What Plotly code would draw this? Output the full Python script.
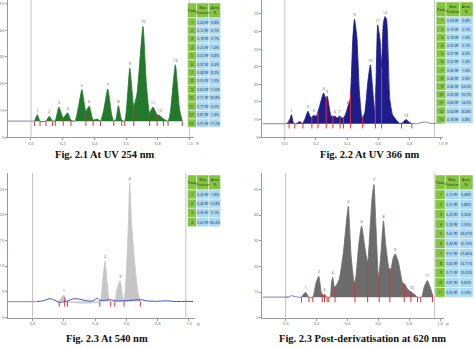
import numpy as np
import plotly.graph_objects as go

# ---------------- DATA ----------------
# Panel 1: UV 254 nm
rf_1 = [0.023, 0.040, 0.057, 0.094, 0.115, 0.136, 0.153, 0.176, 0.203, 0.231, 0.252, 0.277, 0.300, 0.321,
        0.346, 0.367, 0.392, 0.417, 0.438, 0.459, 0.484, 0.509, 0.522, 0.535, 0.551, 0.572, 0.591, 0.623,
        0.648, 0.669, 0.706, 0.727, 0.748, 0.769, 0.795, 0.811, 0.836, 0.864, 0.878, 0.910, 0.937, 0.954]
sig_1 = [6.0, 8.4, 6.0, 6.0, 7.8, 6.0, 6.2, 11.3, 7.2, 9.1, 6.4, 6.0, 11.6, 17.8,
         9.7, 11.6, 6.4, 6.8, 6.0, 10.3, 18.0, 8.4, 6.0, 6.6, 11.8, 6.4, 6.0, 25.8,
         11.6, 16.5, 41.4, 20.2, 9.1, 11.3, 8.4, 8.1, 6.8, 6.0, 9.1, 27.1, 10.3, 6.0]
base_1 = 6.0
peak_rf_1 = [0.040, 0.115, 0.176, 0.231, 0.321, 0.367, 0.484, 0.551, 0.623, 0.706, 0.769, 0.811, 0.910]
peak_h_1 = [8.4, 7.8, 11.3, 9.1, 17.8, 11.6, 18.0, 11.8, 25.8, 41.4, 11.3, 8.1, 27.1]
bound_1 = [0.023, 0.057, 0.094, 0.136, 0.153, 0.203, 0.252, 0.346, 0.392, 0.438, 0.522, 0.572,
           0.591, 0.648, 0.748, 0.795, 0.836, 0.864, 0.954]
area_1 = ["0.8%", "0.7%", "2.7%", "1.0%", "5.8%", "3.4%", "8.2%", "1.2%", "11.6%", "30.8%", "3.5%", "1.4%", "17.2%"]

# Panel 2: UV 366 nm
rf_2 = [0.015, 0.032, 0.043, 0.057, 0.074, 0.096, 0.113, 0.128, 0.149, 0.168, 0.185, 0.202, 0.223, 0.249,
        0.262, 0.272, 0.298, 0.323, 0.336, 0.351, 0.372, 0.389, 0.404, 0.419, 0.436, 0.447, 0.462, 0.479,
        0.496, 0.513, 0.532, 0.549, 0.564, 0.577, 0.585, 0.596, 0.611, 0.621, 0.632, 0.643, 0.653, 0.674,
        0.691, 0.713, 0.738, 0.755, 0.777, 0.798, 0.815]
sig_2 = [7.7, 10.0, 12.8, 7.7, 7.7, 8.9, 7.7, 10.0, 14.7, 10.9, 12.3, 11.9, 17.5, 25.1,
         22.3, 23.2, 11.9, 11.9, 10.9, 11.9, 10.8, 12.8, 17.2, 21.3, 55.3, 67.0, 57.2, 25.1,
         10.9, 13.8, 30.8, 41.1, 27.0, 13.8, 30.8, 63.8, 55.3, 40.2, 64.7, 68.5, 66.6, 21.3,
         12.8, 10.0, 7.7, 8.1, 10.0, 8.5, 7.7]
base_2 = 7.7
tail_rf_2 = [0.815, 0.85, 0.88, 0.91, 0.93, 0.96, 1.015]
tail_sig_2 = [7.7, 7.7, 8.4, 8.6, 7.9, 7.7, 7.7]
peak_rf_2 = [0.043, 0.149, 0.185, 0.249, 0.272, 0.323, 0.351, 0.404, 0.447, 0.549, 0.596, 0.643, 0.777]
peak_h_2 = [12.8, 14.7, 12.3, 25.1, 23.2, 11.9, 11.9, 17.2, 67.0, 41.1, 63.8, 68.5, 10.0]
bound_2 = [0.028, 0.064, 0.117, 0.174, 0.213, 0.266, 0.309, 0.355, 0.377, 0.421, 0.500, 0.581, 0.621, 0.749, 0.815]
area_2 = ["0.8%", "2.1%", "1.9%", "5.7%", "4.2%", "1.3%", "1.0%", "2.9%", "24.5%", "10.7%", "14.2%", "26.8%", "0.8%"]

# Panel 3: 540 nm
rf_3 = [0.170, 0.187, 0.200, 0.217, 0.430, 0.447, 0.464, 0.477, 0.494, 0.526, 0.540, 0.560, 0.574,
        0.585, 0.600, 0.613, 0.621, 0.634, 0.653, 0.674, 0.689]
sig_3 = [3.05, 3.9, 4.35, 3.05, 3.05, 6.8, 11.0, 6.8, 3.05, 3.05, 5.5, 7.1, 4.5,
         3.05, 8.8, 18.5, 26.3, 17.9, 10.7, 4.8, 3.05]
base_3 = 3.05
noise_rf_3 = [0.026, 0.068, 0.111, 0.143, 0.170, 0.228, 0.260, 0.302, 0.345, 0.387, 0.413, 0.430,
              0.504, 0.526, 0.589, 0.696, 0.728, 0.791, 0.855, 0.919, 0.983, 1.026]
noise_sig_3 = [3.05, 3.2, 3.6, 3.3, 2.9, 3.2, 3.6, 3.5, 3.2, 3.2, 3.7, 3.3,
               3.4, 3.2, 3.2, 3.4, 3.2, 3.1, 3.2, 3.05, 3.1, 3.05]
peak_rf_3 = [0.200, 0.464, 0.560, 0.621]
peak_h_3 = [4.35, 11.0, 7.1, 26.3]
bound_3 = [0.170, 0.206, 0.223, 0.430, 0.500, 0.526, 0.585, 0.689]
area_3 = ["1.8%", "12.8%", "5.1%", "80.4%"]

# Panel 4: post-derivatisation 620 nm
rf_4 = [0.103, 0.129, 0.151, 0.176, 0.198, 0.215, 0.232, 0.245, 0.252, 0.267, 0.288, 0.297, 0.305, 0.316,
        0.327, 0.348, 0.374, 0.391, 0.406, 0.424, 0.445, 0.456, 0.473, 0.492, 0.512, 0.531, 0.548, 0.559,
        0.572, 0.585, 0.602, 0.619, 0.634, 0.649, 0.671, 0.682, 0.697, 0.710, 0.731, 0.757, 0.772, 0.789,
        0.815, 0.837, 0.854, 0.880, 0.897, 0.918, 0.940, 0.955]
sig_4 = [8.0, 9.9, 8.0, 8.0, 13.8, 16.1, 9.7, 8.6, 9.0, 8.0, 8.0, 13.8, 15.7, 11.9,
         12.5, 15.1, 25.4, 35.7, 43.5, 24.1, 13.2, 16.4, 28.0, 35.7, 28.0, 21.5, 35.7, 46.1,
         51.9, 35.7, 15.1, 26.7, 37.7, 28.0, 19.0, 19.0, 23.5, 24.8, 21.5, 13.7, 13.0, 11.2,
         9.9, 8.9, 8.0, 8.0, 11.9, 14.5, 11.2, 8.0]
base_4 = 8.0
pre_rf_4 = [0.0, 0.02, 0.037, 0.055, 0.075, 0.103]
pre_sig_4 = [8.0, 8.0, 8.6, 8.2, 8.0, 8.0]
peak_rf_4 = [0.129, 0.215, 0.252, 0.305, 0.406, 0.492, 0.572, 0.634, 0.710, 0.815, 0.918]
peak_h_4 = [9.9, 16.1, 9.0, 15.7, 43.5, 35.7, 51.9, 37.7, 24.8, 9.9, 14.5]
bound_4 = [0.103, 0.151, 0.176, 0.237, 0.252, 0.269, 0.280, 0.320, 0.449, 0.531, 0.606, 0.675,
           0.768, 0.811, 0.854, 0.875, 0.951]
area_4 = ["0.48%", "3.86%", "0.32%", "1.50%", "20.07%", "16.75%", "23.06%", "14.71%", "10.03%", "0.60%", "2.74%"]

captions = ["Fig. 2.1 At UV 254 nm", "Fig. 2.2 At UV 366 nm",
            "Fig. 2.3 At 540 nm", "Fig. 2.3 Post-derivatisation at 620 nm"]
table_header = ["Peak", "Max<br>Position", "Area<br>%"]

# ---------------- LAYOUT HELPERS ----------------
W, H = 474, 348
def px(x):
    return x / W
def py(y):
    return 1 - y / H

panels = [
    dict(rf=rf_1, sig=sig_1, base=base_1, prf=peak_rf_1, ph=peak_h_1, bnd=bound_1, area=area_1,
         fill="#23792b", xr=[-0.145, 1.025], yr=[0, 51.3], xd=[8, 194], yd=[138, 0],
         yt=[0, 10, 20, 30, 40, 50], endline=1.0,
         tab=[188, 221, 3, 128]),
    dict(rf=rf_2, sig=sig_2, base=base_2, prf=peak_rf_2, ph=peak_h_2, bnd=bound_2, area=area_2,
         fill="#1c1c8c", xr=[-0.143, 1.015], yr=[0, 77.9], xd=[263, 444], yd=[138, 0],
         yt=[0, 10, 20, 30, 40, 50, 60, 70], endline=0.96,
         tab=[437, 474, 2, 124]),
    dict(rf=rf_3, sig=sig_3, base=base_3, prf=peak_rf_3, ph=peak_h_3, bnd=bound_3, area=area_3,
         fill="#c6c6c6", xr=[-0.157, 1.036], yr=[-0.1, 28.2], xd=[8, 195], yd=[319.5, 174],
         yt=[0, 5, 10, 15, 20, 25], endline=0.98,
         tab=[188, 221, 176, 228]),
    dict(rf=rf_4, sig=sig_4, base=base_4, prf=peak_rf_4, ph=peak_h_4, bnd=bound_4, area=area_4,
         fill="#6c6c6c", xr=[-0.15, 1.026], yr=[0, 56.4], xd=[263, 445], yd=[319.5, 174],
         yt=[0, 10, 20, 30, 40, 50], endline=0.965,
         tab=[436, 474, 176, 299]),
]

GREEN = "#84c441"
BLUE = "#a9d8f2"

fig = go.Figure()
shapes = []
annotations = []
layout_axes = {}

for i, p in enumerate(panels):
    n = i + 1
    xa = "x" if n == 1 else f"x{n}"
    ya = "y" if n == 1 else f"y{n}"
    span = p["yr"][1] - p["yr"][0]

    fig.add_trace(go.Scatter(x=[p["xr"][0], 0.02], y=[p["base"], p["base"]], mode="lines",
                             line=dict(color="#9d9db8", width=1.2), xaxis=xa, yaxis=ya,
                             hoverinfo="skip", showlegend=False))
    fig.add_trace(go.Scatter(x=p["rf"], y=p["sig"], mode="lines", fill="toself",
                             fillcolor=p["fill"], line=dict(color=p["fill"], width=0.8, shape="spline", smoothing=0.5),
                             xaxis=xa, yaxis=ya, hoverinfo="skip", showlegend=False))
    if n == 2:
        fig.add_trace(go.Scatter(x=tail_rf_2, y=tail_sig_2, mode="lines",
                                 line=dict(color="#8888aa", width=1), xaxis=xa, yaxis=ya,
                                 hoverinfo="skip", showlegend=False))
    if n == 3:
        fig.add_trace(go.Scatter(x=noise_rf_3, y=noise_sig_3, mode="lines",
                                 line=dict(color="#3f52c4", width=1, shape="spline"), xaxis=xa, yaxis=ya,
                                 hoverinfo="skip", showlegend=False))
    if n == 4:
        fig.add_trace(go.Scatter(x=pre_rf_4, y=pre_sig_4, mode="lines",
                                 line=dict(color="#7f86c8", width=1), xaxis=xa, yaxis=ya,
                                 hoverinfo="skip", showlegend=False))

    bx, by = [], []
    for b in p["bnd"]:
        top = float(np.interp(b, p["rf"], p["sig"]))
        bx += [b, b, None]
        by += [p["base"] - 0.035 * span, top, None]
    fig.add_trace(go.Scatter(x=bx, y=by, mode="lines", line=dict(color="#e0303a", width=1),
                             xaxis=xa, yaxis=ya, hoverinfo="skip", showlegend=False))

    fig.add_trace(go.Scatter(x=p["prf"], y=[h + 0.015 * span for h in p["ph"]], mode="text",
                             text=[str(k + 1) for k in range(len(p["prf"]))], textposition="top center",
                             textfont=dict(size=4, color="#555555"), xaxis=xa, yaxis=ya,
                             hoverinfo="skip", showlegend=False))

    xt = [0, 0.2, 0.4, 0.6, 0.8, 1.0]
    layout_axes["xaxis" if n == 1 else f"xaxis{n}"] = dict(
        domain=[px(p["xd"][0]), px(p["xd"][1])], range=p["xr"], anchor=ya,
        showline=True, linecolor="#9a9a9a", linewidth=1, ticks="outside", ticklen=2, tickcolor="#9a9a9a",
        tickvals=xt, ticktext=[f"{v:.1f}" for v in xt], tickfont=dict(size=4, color="#666666"),
        showgrid=False, zeroline=False, fixedrange=True)
    layout_axes["yaxis" if n == 1 else f"yaxis{n}"] = dict(
        domain=[py(p["yd"][0]), py(p["yd"][1])], range=p["yr"], anchor=xa,
        showline=True, linecolor="#9a9a9a", linewidth=1, ticks="outside", ticklen=2, tickcolor="#9a9a9a",
        tickvals=p["yt"], tickfont=dict(size=4, color="#666666"),
        showgrid=False, zeroline=False, fixedrange=True)

    for xv in (0.0, p["endline"]):
        shapes.append(dict(type="line", xref=xa, yref=f"{ya} domain", x0=xv, x1=xv, y0=0, y1=1,
                           line=dict(color="#c4c4c4", width=1), layer="below"))
    annotations.append(dict(x=p["xr"][1], y=p["yr"][0], xref=xa, yref=ya, text="Rf", showarrow=False,
                            font=dict(size=3, color="#777777"), xanchor="left", yanchor="top", yshift=-3))

    # ---- table drawn with shapes + text ----
    rows = len(p["prf"])
    t = p["tab"]
    hdr_h = 15.0
    cell_h = (t[3] - t[2] - hdr_h) / rows
    tw = t[1] - t[0]
    cw = [0.27, 0.37, 0.36]
    cx = [t[0], t[0] + cw[0] * tw, t[0] + (cw[0] + cw[1]) * tw, t[1]]
    # header
    for c in range(3):
        shapes.append(dict(type="rect", xref="paper", yref="paper",
                           x0=px(cx[c]), x1=px(cx[c + 1]), y0=py(t[2] + hdr_h), y1=py(t[2]),
                           fillcolor=GREEN, line=dict(color="#eef6e4", width=0.6)))
        annotations.append(dict(x=px((cx[c] + cx[c + 1]) / 2), y=py(t[2] + hdr_h / 2), xref="paper", yref="paper",
                                text=table_header[c], showarrow=False,
                                font=dict(size=3.6, color="#1b2a10"), xanchor="center", yanchor="middle"))
    cols = [[str(k + 1) for k in range(rows)], [f"{v:.2f} Rf" for v in p["prf"]], p["area"]]
    for r in range(rows):
        y0 = t[2] + hdr_h + r * cell_h
        for c in range(3):
            shapes.append(dict(type="rect", xref="paper", yref="paper",
                               x0=px(cx[c]), x1=px(cx[c + 1]), y0=py(y0 + cell_h), y1=py(y0),
                               fillcolor=GREEN if c == 0 else BLUE, line=dict(color="#eef6fb", width=0.6)))
            annotations.append(dict(x=px(cx[c + 1] - 1.5) if c == 0 else px((cx[c] + cx[c + 1]) / 2),
                                    y=py(y0 + cell_h / 2), xref="paper", yref="paper",
                                    text=cols[c][r], showarrow=False,
                                    font=dict(size=3.6, color="#1d2a5a"),
                                    xanchor="right" if c == 0 else "center", yanchor="middle"))

cap_pos = [(105, 155), (371, 155), (107, 340), (363, 340)]
for txt, (cx0, cy0) in zip(captions, cap_pos):
    annotations.append(dict(x=px(cx0), y=py(cy0), xref="paper", yref="paper", text=f"<b>{txt}</b>",
                            showarrow=False, font=dict(family="Liberation Serif", size=10.5, color="#111111"),
                            xanchor="center", yanchor="middle"))

fig.update_layout(width=W, height=H, margin=dict(l=0, r=0, t=0, b=0),
                  paper_bgcolor="white", plot_bgcolor="white",
                  shapes=shapes, annotations=annotations, **layout_axes)

fig.write_html("out.html")
